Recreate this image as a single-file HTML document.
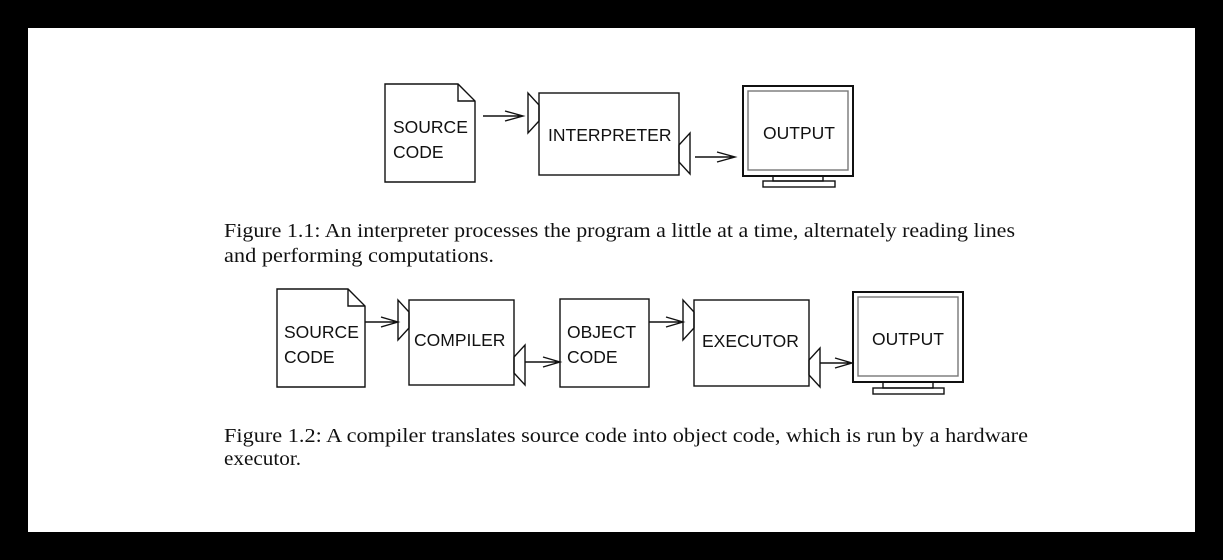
<!DOCTYPE html>
<html><head><meta charset="utf-8"><style>
html,body{margin:0;padding:0;background:#000;}
svg{display:block;}
</style></head><body>
<svg width="1223" height="560" viewBox="0 0 1223 560" xmlns="http://www.w3.org/2000/svg">
<rect x="0" y="0" width="1223" height="560" fill="#000"/>
<rect x="28" y="28" width="1167" height="504" fill="#fff"/>
<g fill="none" stroke="#111" stroke-width="1.4">
<!-- Figure 1 -->
<path d="M385 84 H458 L475 101 V182 H385 Z"/>
<path d="M458 84 V101 H475"/>
<path d="M483 116 H523 M505 111 L523 116 L505 121"/>
<path d="M528 93 V133 L539 121 V105 Z"/>
<rect x="539" y="93" width="140" height="82"/>
<path d="M690 133 V174 L679 162 V145 Z"/>
<path d="M695 157 H735 M717 152 L735 157 L717 162"/>
<rect x="743" y="86" width="110" height="90" stroke-width="2"/>
<rect x="748" y="91" width="100" height="79" stroke="#777"/>
<rect x="773" y="176" width="50" height="5"/>
<rect x="763" y="181" width="72" height="6"/>
<!-- Figure 2 -->
<path d="M277 289 H348 L365 306 V387 H277 Z"/>
<path d="M348 289 V306 H365"/>
<path d="M365 322 H398 M381 317 L398 322 L381 327"/>
<path d="M398 300 V340 L409 328 V312 Z"/>
<rect x="409" y="300" width="105" height="85"/>
<path d="M525 345 V385 L514 373 V357 Z"/>
<path d="M525 362 H560 M543 357 L560 362 L543 367"/>
<rect x="560" y="299" width="89" height="88"/>
<path d="M649 322 H683 M666 317 L683 322 L666 327"/>
<path d="M683 300 V340 L694 328 V312 Z"/>
<rect x="694" y="300" width="115" height="86"/>
<path d="M820 348 V387 L809 375 V360 Z"/>
<path d="M820 363 H852 M835 358 L852 363 L835 368"/>
<rect x="853" y="292" width="110" height="90" stroke-width="2"/>
<rect x="858" y="297" width="100" height="79" stroke="#777"/>
<rect x="883" y="382" width="50" height="6"/>
<rect x="873" y="388" width="71" height="6"/>
</g>
<g font-family="'Liberation Sans', sans-serif" font-size="17.5" fill="#111">
<text x="393" y="133">SOURCE</text>
<text x="393" y="158">CODE</text>
<text x="548" y="141">INTERPRETER</text>
<text x="799" y="139" text-anchor="middle">OUTPUT</text>
<text x="284" y="338">SOURCE</text>
<text x="284" y="363">CODE</text>
<text x="414" y="346">COMPILER</text>
<text x="567" y="338">OBJECT</text>
<text x="567" y="363">CODE</text>
<text x="702" y="347">EXECUTOR</text>
<text x="908" y="345" text-anchor="middle">OUTPUT</text>
</g>
<g font-family="'Liberation Serif', serif" font-size="19.5" fill="#111">
<text x="224" y="237" textLength="791" lengthAdjust="spacingAndGlyphs">Figure 1.1: An interpreter processes the program a little at a time, alternately reading lines</text>
<text x="224" y="262" textLength="270" lengthAdjust="spacingAndGlyphs">and performing computations.</text>
<text x="224" y="442" textLength="804" lengthAdjust="spacingAndGlyphs">Figure 1.2: A compiler translates source code into object code, which is run by a hardware</text>
<text x="224" y="465" textLength="77" lengthAdjust="spacingAndGlyphs">executor.</text>
</g>
</svg>
</body></html>
